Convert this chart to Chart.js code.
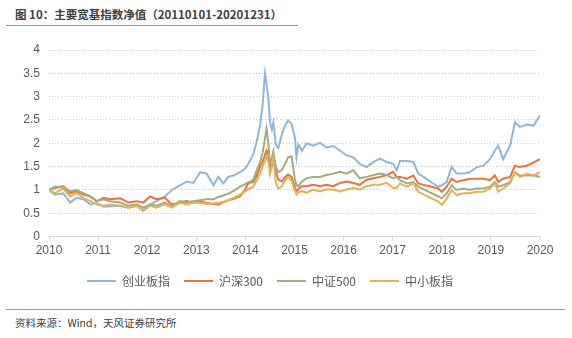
<!DOCTYPE html>
<html lang="zh">
<head>
<meta charset="UTF-8">
<title>主要宽基指数净值</title>
<script src="https://cdn.jsdelivr.net/npm/chart.js"></script>
<style>
  body { margin: 0; background: #fff; font-family: "Noto Sans CJK SC", sans-serif; }
  #wrap { position: relative; width: 572px; height: 338px; overflow: hidden; }
  #titulo { position: absolute; left: 15px; top: 6px; font-size: 11.5px; font-weight: bold; color: #404040; white-space: nowrap; }
  .raya { position: absolute; height: 0; border-top: 1.5px solid #e8822e; }
  #fuente { position: absolute; left: 15px; top: 315px; font-size: 10.5px; color: #404040; white-space: nowrap; }
  canvas { position: absolute; left: 0; top: 0; }
</style>
</head>
<body>
<div id="wrap">
  <div id="titulo">图 10：主要宽基指数净值（20110101-20201231）</div>
  <div class="raya" style="left:6px; top:25px; width:292px;"></div>
  <canvas id="grafica" width="572" height="300"></canvas>
  <div class="raya" style="left:6px; top:309px; width:559px;"></div>
  <div id="fuente">资料来源：Wind，天风证券研究所</div>
</div>

<script>
  // fechas (año decimal) y valores
  const fechas = [
    2010.00, 2010.12, 2010.29, 2010.43, 2010.56, 2010.70, 2010.84, 2010.97, 2011.11, 2011.24, 2011.45,
    2011.62, 2011.79, 2011.92, 2012.06, 2012.19, 2012.36, 2012.50, 2012.67, 2012.80, 2012.94, 2013.08,
    2013.21, 2013.35, 2013.45, 2013.55, 2013.65, 2013.76, 2013.89, 2013.99, 2014.06, 2014.16, 2014.23,
    2014.30, 2014.35, 2014.40, 2014.43, 2014.47, 2014.50, 2014.54, 2014.57, 2014.62, 2014.67, 2014.74,
    2014.81, 2014.87, 2014.94,
    2015.01, 2015.04, 2015.08, 2015.15, 2015.25, 2015.38, 2015.52, 2015.65, 2015.79, 2015.93, 2016.06,
    2016.20, 2016.33, 2016.47, 2016.61, 2016.74, 2016.88, 2017.01, 2017.08,
    2017.15, 2017.29, 2017.42, 2017.52, 2017.66, 2017.79, 2017.93, 2018.00, 2018.10, 2018.20, 2018.30,
    2018.44, 2018.57, 2018.71, 2018.85, 2018.98, 2019.08, 2019.15, 2019.25, 2019.39, 2019.49, 2019.59,
    2019.73, 2019.87, 2020.00
  ];
  const chuangye = [
    1.00, 0.90, 0.93, 0.73, 0.83, 0.80, 0.69, 0.72, 0.64, 0.65, 0.66,
    0.62, 0.66, 0.56, 0.69, 0.76, 0.86, 1.00, 1.10, 1.18, 1.15, 1.38,
    1.35, 1.10, 1.28, 1.14, 1.28, 1.31, 1.38, 1.45, 1.56, 1.76, 2.04,
    2.39, 2.81, 3.50, 3.29, 2.94, 2.46, 2.30, 2.45, 1.97, 1.90, 2.18,
    2.39, 2.49, 2.42,
    2.12, 1.70, 1.98, 1.84, 2.00, 1.95, 2.01, 1.91, 1.94, 1.84, 1.74,
    1.70, 1.56, 1.49, 1.60, 1.67, 1.60, 1.56, 1.42,
    1.62, 1.62, 1.60, 1.35, 1.26, 1.16, 1.07, 1.10, 1.17, 1.50, 1.35,
    1.35, 1.38, 1.49, 1.52, 1.66, 1.84, 1.95, 1.66, 1.95, 2.45, 2.35,
    2.40, 2.38, 2.60
  ];
  const hushen300 = [
    1.00, 1.04, 1.08, 0.93, 0.97, 0.90, 0.86, 0.76, 0.83, 0.80, 0.82,
    0.73, 0.76, 0.73, 0.86, 0.80, 0.83, 0.69, 0.73, 0.76, 0.73, 0.75,
    0.72, 0.70, 0.69, 0.74, 0.78, 0.81, 0.86, 1.00, 1.15, 1.17, 1.30,
    1.50, 1.60, 1.76, 1.85, 1.75, 1.49, 1.55, 1.63, 1.40, 1.22, 1.18,
    1.28, 1.33, 1.28,
    1.05, 0.97, 1.02, 1.08, 1.08, 1.11, 1.08, 1.11, 1.08, 1.15, 1.18,
    1.15, 1.11, 1.22, 1.25, 1.28, 1.32, 1.39, 1.28,
    1.28, 1.24, 1.31, 1.14, 1.10, 1.07, 1.03, 0.96, 1.07, 1.24, 1.17,
    1.21, 1.24, 1.24, 1.24, 1.21, 1.31, 1.17, 1.24, 1.28, 1.52, 1.49,
    1.52, 1.59, 1.66
  ];
  const zhongzheng500 = [
    1.00, 1.07, 1.07, 0.97, 1.00, 0.93, 0.86, 0.76, 0.80, 0.76, 0.73,
    0.66, 0.69, 0.62, 0.69, 0.66, 0.73, 0.66, 0.76, 0.73, 0.76, 0.78,
    0.80, 0.80, 0.85, 0.88, 0.92, 0.98, 1.07, 1.12, 1.16, 1.21, 1.42,
    1.60, 1.80, 2.11, 2.32, 1.97, 1.56, 1.70, 1.83, 1.50, 1.38, 1.42,
    1.56, 1.70, 1.72,
    1.22, 1.10, 1.08, 1.18, 1.25, 1.28, 1.28, 1.32, 1.35, 1.39, 1.35,
    1.42, 1.25, 1.28, 1.32, 1.35, 1.32, 1.25, 1.28,
    1.21, 1.14, 1.17, 1.07, 1.00, 0.93, 0.86, 0.82, 0.93, 1.10, 1.00,
    1.03, 1.00, 1.03, 1.03, 1.07, 1.17, 1.07, 1.10, 1.17, 1.38, 1.31,
    1.31, 1.31, 1.28
  ];
  const zhongxiao = [
    1.00, 0.93, 1.03, 0.86, 0.93, 0.83, 0.76, 0.69, 0.66, 0.69, 0.66,
    0.62, 0.66, 0.55, 0.66, 0.62, 0.69, 0.62, 0.73, 0.69, 0.73, 0.72,
    0.70, 0.71, 0.72, 0.75, 0.78, 0.83, 0.90, 0.97, 1.02, 1.07, 1.20,
    1.35, 1.50, 1.63, 1.72, 1.60, 1.35, 1.50, 1.69, 1.15, 1.03, 1.08,
    1.21, 1.27, 1.20,
    0.98, 0.90, 0.95, 0.97, 0.94, 1.01, 0.97, 1.01, 1.01, 0.97, 1.01,
    1.04, 1.01, 1.08, 1.11, 1.11, 1.15, 1.04, 1.04,
    1.14, 1.07, 1.14, 0.96, 0.89, 0.82, 0.75, 0.68, 0.82, 1.00, 0.89,
    0.93, 0.93, 0.96, 0.96, 1.03, 1.14, 0.96, 1.03, 1.14, 1.38, 1.28,
    1.35, 1.31, 1.38
  ];
  const nombres = ['创业板指', '沪深300', '中证500', '中小板指'];
  const colores = ['#92b6d8', '#e5733a', '#a4ab7e', '#e2b257'];
  const series = [chuangye, hushen300, zhongzheng500, zhongxiao];

  const puntos = valores => fechas.map((x, i) => ({ x: x, y: valores[i] }));

  const datasets = series.map((valores, i) => ({
    label: nombres[i],
    data: puntos(valores),
    borderColor: colores[i],
    backgroundColor: colores[i],
    borderWidth: 2,
    pointRadius: 0,
    tension: 0,
    order: 4 - i
  }));

  const ctx = document.getElementById('grafica').getContext('2d');
  new Chart(ctx, {
    type: 'line',
    data: { datasets: datasets },
    options: {
      responsive: false,
      animation: false,
      layout: { padding: { top: 50, right: 32, left: 0, bottom: 3 } },
      plugins: {
        tooltip: { enabled: false },
        legend: {
          position: 'bottom',
          labels: {
            boxWidth: 29,
            boxHeight: 2,
            padding: 14,
            color: '#595959',
            font: { size: 12, family: '"Noto Sans CJK SC", sans-serif' },
            sort: (a, b) => a.datasetIndex - b.datasetIndex,
            generateLabels: chart => Chart.defaults.plugins.legend.labels.generateLabels(chart).map(l => ({ ...l, lineWidth: 0 }))
          }
        }
      },
      scales: {
        x: {
          type: 'linear',
          min: 2010,
          max: 2020,
          ticks: {
            stepSize: 1,
            color: '#595959',
            font: { size: 12, family: '"Liberation Sans", Arial, sans-serif' },
            padding: 3,
            maxRotation: 0,
            callback: v => String(v)
          },
          grid: { drawOnChartArea: false, drawTicks: true, tickLength: 4, color: '#d9d9d9' },
          border: { display: true, color: '#d9d9d9' }
        },
        y: {
          min: 0,
          max: 4,
          afterFit: scale => { scale.width = 49; },
          ticks: {
            stepSize: 0.5,
            color: '#595959',
            font: { size: 12, family: '"Liberation Sans", Arial, sans-serif' },
            padding: 9,
            callback: v => String(v)
          },
          grid: { drawTicks: false, color: '#c8c8c8', lineWidth: 1 },
          border: { display: false, dash: [1, 2] }
        }
      }
    }
  });
</script>
</body>
</html>
